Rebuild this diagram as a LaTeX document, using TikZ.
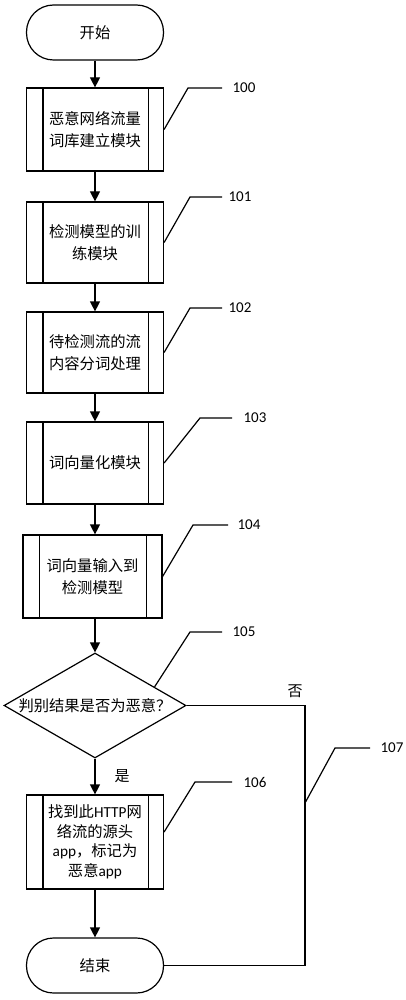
\documentclass[tikz,border=0pt]{standalone}
\usepackage{fontspec}
\setmainfont{Carlito}
\newfontfamily\cjk{Noto Sans CJK SC}
\newfontfamily\lat{Carlito}
\usetikzlibrary{arrows.meta,shapes.geometric,calc}
\begin{document}
\begin{tikzpicture}[x=1pt,y=-1pt,
  line width=1.2pt,
  every node/.style={inner sep=0pt},
  txt/.style={font=\cjk\fontsize{15.3}{22}\selectfont, align=center},
  term/.style={draw, txt, rounded corners=27pt, minimum width=137pt, minimum height=55pt},
  proc/.style={draw, txt, minimum width=137pt},
  dec/.style={draw, diamond, txt, aspect=1.73, minimum width=182pt, minimum height=105pt},
  arr/.style={-{Triangle[length=10pt,width=10pt]}},
  lbl/.style={font=\lat\fontsize{15}{17}\selectfont, anchor=west},
  yn/.style={font=\cjk\fontsize{15}{18}\selectfont}]
\useasboundingbox (0,0) rectangle (405,1000);

% main nodes
\node[term] (start) at (95,32.5) {开始};
\node[proc, minimum height=83pt] (b100) at (95,129.5) {恶意网络流量\\词库建立模块};
\node[proc, minimum height=81pt] (b101) at (95,242.5) {检测模型的训\\练模块};
\node[proc, minimum height=81pt] (b102) at (95,352.5) {待检测流的流\\内容分词处理};
\node[proc, minimum height=82pt] (b103) at (95,463) {词向量化模块};
\node[proc, minimum height=83pt, minimum width=139pt] (b104) at (92.5,576.5) {词向量输入到\\检测模型};
\node[dec] (d) at (95,705.5) {判别结果是否为恶意？};
\node[proc, minimum height=94pt, font=\cjk\fontsize{15.3}{19.5}\selectfont] (b106) at (95,842) {找到此{\lat HTTP}网\\络流的源头\\{\lat app}，标记为\\恶意{\lat app}};
\node[term] (e) at (95,965.5) {结束};

% inner vertical lines of predefined-process boxes
\foreach \n in {b100,b101,b102,b103,b104,b106}{
  \draw ([xshift=17pt]\n.north west) -- ([xshift=17pt]\n.south west);
  \draw ([xshift=-16pt]\n.north east) -- ([xshift=-16pt]\n.south east);
}

% flow arrows
\draw[arr] (start) -- (b100);
\draw[arr] (b100) -- (b101);
\draw[arr] (b101) -- (b102);
\draw[arr] (b102) -- (b103);
\draw[arr] (b103.south) -- (b103.south |- b104.north);
\draw[arr] (b104.south -| d.north) -- (d.north);
\draw[arr] (d.south) -- (d.south |- b106.north);
\draw[arr] (b106) -- (e);

% "no" branch
\coordinate (r) at (305,965.5);
\draw (d.east) -| (r) -- (e.east);
\node[yn] (no) at (295,691) {否};
\node[yn] (yes) at (122,776) {是};

% reference numerals
\node[lbl] (l100) at (232,88) {100};
\node[lbl] (l101) at (228,197) {101};
\node[lbl] (l102) at (228,308) {102};
\node[lbl] (l103) at (243,418) {103};
\node[lbl] (l104) at (237,525) {104};
\node[lbl] (l105) at (232,632) {105};
\node[lbl] (l106) at (243,782) {106};
\node[lbl] (l107) at (380,748) {107};

\coordinate (k100) at (188,88);  \coordinate (m100) at (222,88);
\coordinate (k101) at (190,197); \coordinate (m101) at (222,197);
\coordinate (k102) at (190,308); \coordinate (m102) at (222,308);
\coordinate (k103) at (200,418); \coordinate (m103) at (232,418);
\coordinate (k104) at (193,525); \coordinate (m104) at (228,525);
\coordinate (k105) at (190,632); \coordinate (m105) at (222,632);
\coordinate (k106) at (195,782); \coordinate (m106) at (232,782);
\coordinate (k107) at (335,748); \coordinate (m107) at (370,748);
\coordinate (p105) at ($(d.north)!0.65!(d.east)$);
\coordinate (p106) at ($(b106.east)+(0,-10)$);
\coordinate (p107) at (305,803);

\draw (b100.east) -- (k100) -- (m100);
\draw (b101.east) -- (k101) -- (m101);
\draw (b102.east) -- (k102) -- (m102);
\draw (b103.east) -- (k103) -- (m103);
\draw (b104.east) -- (k104) -- (m104);
\draw (p105) -- (k105) -- (m105);
\draw (p106) -- (k106) -- (m106);
\draw (p107) -- (k107) -- (m107);
\end{tikzpicture}
\end{document}
